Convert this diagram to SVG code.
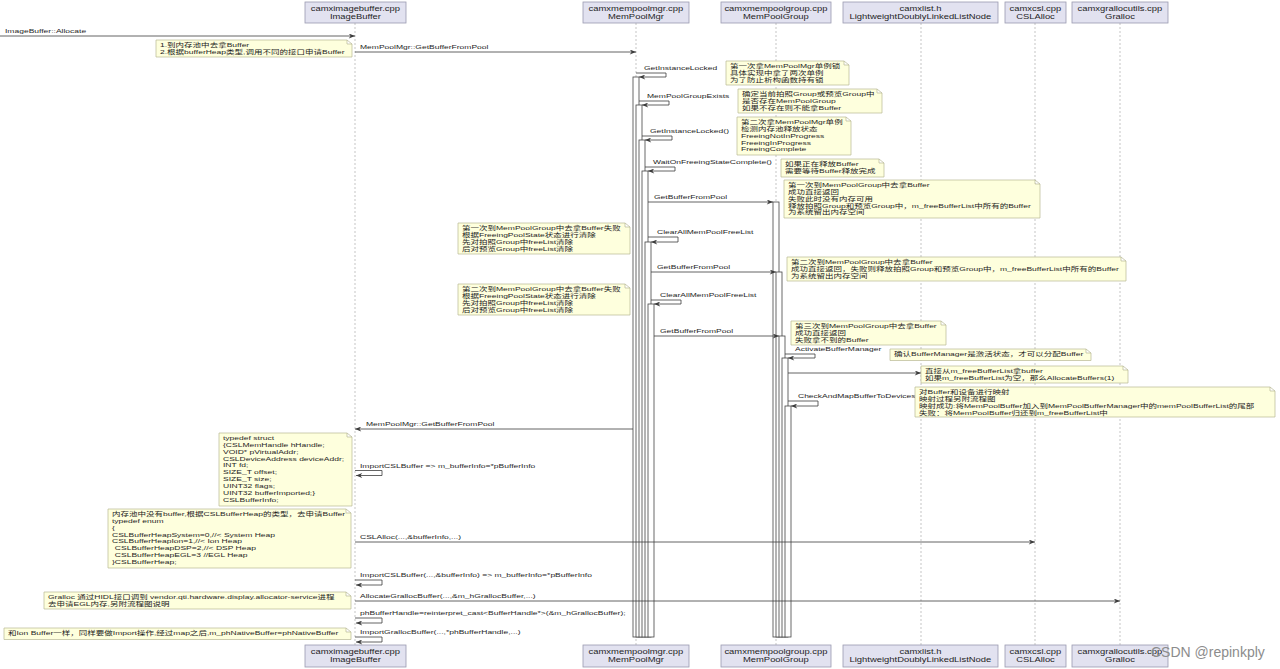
<svg xmlns="http://www.w3.org/2000/svg" width="1280" height="669" viewBox="0 0 1280 669">
<style>
.t{font-family:"Liberation Sans","Noto Sans CJK SC",sans-serif;font-size:6px;fill:#1e1e1e;transform-box:fill-box;transform-origin:0 0;transform:scale(1.42,1)}
.h{font-family:"Liberation Sans","Noto Sans CJK SC",sans-serif;font-size:6.5px;fill:#1e1e1e;text-anchor:middle;transform-box:fill-box;transform-origin:50% 0;transform:scale(1.45,1)}
.p{fill:#E2E2F0;stroke:#9a9ab0;stroke-width:0.8}
.ll{stroke:#a0a0a0;stroke-width:0.6;stroke-dasharray:2 2;fill:none}
.m{stroke:#3c3c3c;stroke-width:0.8;fill:none}
.a{fill:#fff;stroke:#454545;stroke-width:0.8}
.n{fill:#FEFFDD;stroke:#b8b894;stroke-width:0.7}
.wm{font-family:"Liberation Sans",sans-serif;font-size:14px;fill:#8c8c8c}
</style>
<defs>
<marker id="ah" viewBox="0 0 10 8" refX="10" refY="4" markerWidth="7" markerHeight="5" markerUnits="userSpaceOnUse" orient="auto">
<path d="M0,0 L10,4 L0,8 L3,4 Z" fill="#3c3c3c"/>
</marker>
</defs>
<rect width="1280" height="669" fill="#fff"/>

<g id="lifelines">
<line class="ll" x1="355" y1="23" x2="355" y2="645"/>
<line class="ll" x1="636" y1="23" x2="636" y2="645"/>
<line class="ll" x1="776" y1="23" x2="776" y2="645"/>
<line class="ll" x1="921" y1="23" x2="921" y2="645"/>
<line class="ll" x1="1035" y1="23" x2="1035" y2="645"/>
<line class="ll" x1="1120" y1="23" x2="1120" y2="645"/>
</g>

<g id="p-imagebuffer">
<rect class="p" x="305" y="2" width="101" height="21"/>
<text class="h" x="355.5" y="10.7">camximagebuffer.cpp</text>
<text class="h" x="355.5" y="18.7">ImageBuffer</text>
<rect class="p" x="305" y="645" width="101" height="22"/>
<text class="h" x="355.5" y="653.7">camximagebuffer.cpp</text>
<text class="h" x="355.5" y="661.7">ImageBuffer</text>
</g>
<g id="p-mempoolmgr">
<rect class="p" x="583" y="2" width="106" height="21"/>
<text class="h" x="636" y="10.7">camxmempoolmgr.cpp</text>
<text class="h" x="636" y="18.7">MemPoolMgr</text>
<rect class="p" x="583" y="645" width="106" height="22"/>
<text class="h" x="636" y="653.7">camxmempoolmgr.cpp</text>
<text class="h" x="636" y="661.7">MemPoolMgr</text>
</g>
<g id="p-mempoolgroup">
<rect class="p" x="721" y="2" width="110" height="21"/>
<text class="h" x="776" y="10.7">camxmempoolgroup.cpp</text>
<text class="h" x="776" y="18.7">MemPoolGroup</text>
<rect class="p" x="721" y="645" width="110" height="22"/>
<text class="h" x="776" y="653.7">camxmempoolgroup.cpp</text>
<text class="h" x="776" y="661.7">MemPoolGroup</text>
</g>
<g id="p-listnode">
<rect class="p" x="843" y="2" width="155" height="21"/>
<text class="h" x="920.5" y="10.7">camxlist.h</text>
<text class="h" x="920.5" y="18.7">LightweightDoublyLinkedListNode</text>
<rect class="p" x="843" y="645" width="155" height="22"/>
<text class="h" x="920.5" y="653.7">camxlist.h</text>
<text class="h" x="920.5" y="661.7">LightweightDoublyLinkedListNode</text>
</g>
<g id="p-cslalloc">
<rect class="p" x="1005" y="2" width="61" height="21"/>
<text class="h" x="1035.5" y="10.7">camxcsl.cpp</text>
<text class="h" x="1035.5" y="18.7">CSLAlloc</text>
<rect class="p" x="1005" y="645" width="61" height="22"/>
<text class="h" x="1035.5" y="653.7">camxcsl.cpp</text>
<text class="h" x="1035.5" y="661.7">CSLAlloc</text>
</g>
<g id="p-gralloc">
<rect class="p" x="1072" y="2" width="96" height="21"/>
<text class="h" x="1120" y="10.7">camxgrallocutils.cpp</text>
<text class="h" x="1120" y="18.7">Gralloc</text>
<rect class="p" x="1072" y="645" width="96" height="22"/>
<text class="h" x="1120" y="653.7">camxgrallocutils.cpp</text>
<text class="h" x="1120" y="661.7">Gralloc</text>
</g>

<g id="activations">
<rect class="a" x="633" y="77" width="6" height="560"/>
<rect class="a" x="636" y="105" width="6" height="532"/>
<rect class="a" x="639" y="140" width="6" height="497"/>
<rect class="a" x="642" y="171" width="6" height="466"/>
<rect class="a" x="645" y="242" width="6" height="395"/>
<rect class="a" x="648" y="304" width="6" height="333"/>
<rect class="a" x="773" y="202" width="6" height="435"/>
<rect class="a" x="776" y="272" width="6" height="365"/>
<rect class="a" x="779" y="336" width="6" height="301"/>
<rect class="a" x="782" y="358" width="6" height="279"/>
<rect class="a" x="785" y="406" width="6" height="231"/>
</g>

<g id="connectors">
<path class="m" d="M0,36 H355" marker-end="url(#ah)"/>
<text class="t" x="5" y="33.5">ImageBuffer::Allocate</text>
<path class="m" d="M355,52 H636" marker-end="url(#ah)"/>
<text class="t" x="360" y="49.5">MemPoolMgr::GetBufferFromPool</text>
<path class="m" d="M636,73 H666 V77 H639" marker-end="url(#ah)"/>
<text class="t" x="644" y="70.5">GetInstanceLocked</text>
<path class="m" d="M639,101 H669 V105 H642" marker-end="url(#ah)"/>
<text class="t" x="647" y="98.5">MemPoolGroupExists</text>
<path class="m" d="M642,136 H672 V140 H645" marker-end="url(#ah)"/>
<text class="t" x="650" y="133.5">GetInstanceLocked()</text>
<path class="m" d="M645,167 H675 V171 H648" marker-end="url(#ah)"/>
<text class="t" x="653" y="164.5">WaitOnFreeingStateComplete()</text>
<path class="m" d="M648,202 H773" marker-end="url(#ah)"/>
<text class="t" x="654" y="199.5">GetBufferFromPool</text>
<path class="m" d="M648,237 H678 V242 H651" marker-end="url(#ah)"/>
<text class="t" x="657" y="234.5">ClearAllMemPoolFreeList</text>
<path class="m" d="M651,272 H776" marker-end="url(#ah)"/>
<text class="t" x="657" y="269.5">GetBufferFromPool</text>
<path class="m" d="M651,300 H681 V304 H654" marker-end="url(#ah)"/>
<text class="t" x="660" y="297.5">ClearAllMemPoolFreeList</text>
<path class="m" d="M654,336 H779" marker-end="url(#ah)"/>
<text class="t" x="660" y="333.5">GetBufferFromPool</text>
<path class="m" d="M785,354 H815 V358 H788" marker-end="url(#ah)"/>
<text class="t" x="795" y="351.5">ActivateBufferManager</text>
<path class="m" d="M788,373 H921" marker-end="url(#ah)"/>
<path class="m" d="M788,401 H818 V406 H791" marker-end="url(#ah)"/>
<text class="t" x="798" y="398.5">CheckAndMapBufferToDevices</text>
<path class="m" d="M633,429 H355" marker-end="url(#ah)"/>
<text class="t" x="366" y="426.5">MemPoolMgr::GetBufferFromPool</text>
<path class="m" d="M355,470.5 H382 V475.5 H356" marker-end="url(#ah)"/>
<text class="t" x="360" y="468">ImportCSLBuffer =&gt; m_bufferInfo=*pBufferInfo</text>
<path class="m" d="M355,542 H1035" marker-end="url(#ah)"/>
<text class="t" x="360" y="539.5">CSLAlloc(...,&amp;bufferInfo,...)</text>
<path class="m" d="M355,580 H382 V585 H356" marker-end="url(#ah)"/>
<text class="t" x="360" y="577.5">ImportCSLBuffer(...,&amp;bufferInfo) =&gt; m_bufferInfo=*pBufferInfo</text>
<path class="m" d="M355,601 H1120" marker-end="url(#ah)"/>
<text class="t" x="360" y="598.5">AllocateGrallocBuffer(...,&amp;m_hGrallocBuffer,...)</text>
<path class="m" d="M355,618 H382 V623 H356" marker-end="url(#ah)"/>
<text class="t" x="360" y="615.5">phBufferHandle=reinterpret_cast&lt;BufferHandle*&gt;(&amp;m_hGrallocBuffer);</text>
<path class="m" d="M355,637 H382 V642 H356" marker-end="url(#ah)"/>
<text class="t" x="360" y="634.5">ImportGrallocBuffer(...,*phBufferHandle,...)</text>
</g>

<g id="note-0">
<path class="n" d="M156,40 H347 L352,44 V57 H156 Z M347,40 V44 H352"/>
<text class="t" x="160" y="47"><tspan x="160">1.到内存池中去拿Buffer</tspan><tspan x="160" dy="6.85">2.根据bufferHeap类型,调用不同的接口申请Buffer</tspan></text>
</g>
<g id="note-1">
<path class="n" d="M726,61 H844 L849,65 V85 H726 Z M844,61 V65 H849"/>
<text class="t" x="730" y="68"><tspan x="730">第一次拿MemPoolMgr单例锁</tspan><tspan x="730" dy="6.85">具体实现中拿了两次单例</tspan><tspan x="730" dy="6.85">为了防止析构函数持有锁</tspan></text>
</g>
<g id="note-2">
<path class="n" d="M738,89 H877 L882,93 V113 H738 Z M877,89 V93 H882"/>
<text class="t" x="742" y="96"><tspan x="742">确定当前拍照Group或预览Group中</tspan><tspan x="742" dy="6.85">是否存在MemPoolGroup</tspan><tspan x="742" dy="6.85">如果不存在则不能拿Buffer</tspan></text>
</g>
<g id="note-3">
<path class="n" d="M737,117 H846 L851,121 V155 H737 Z M846,117 V121 H851"/>
<text class="t" x="741" y="124"><tspan x="741">第二次拿MemPoolMgr单例</tspan><tspan x="741" dy="6.85">检测内存池释放状态</tspan><tspan x="741" dy="6.85">FreeingNotInProgress</tspan><tspan x="741" dy="6.85">FreeingInProgress</tspan><tspan x="741" dy="6.85">FreeingComplete</tspan></text>
</g>
<g id="note-4">
<path class="n" d="M781,159 H879 L884,163 V177 H781 Z M879,159 V163 H884"/>
<text class="t" x="785" y="166"><tspan x="785">如果正在释放Buffer</tspan><tspan x="785" dy="6.85">需要等待Buffer释放完成</tspan></text>
</g>
<g id="note-5">
<path class="n" d="M784,180 H1035 L1040,184 V218 H784 Z M1035,180 V184 H1040"/>
<text class="t" x="788" y="187"><tspan x="788">第一次到MemPoolGroup中去拿Buffer</tspan><tspan x="788" dy="6.85">成功直接返回</tspan><tspan x="788" dy="6.85">失败此时没有内存可用</tspan><tspan x="788" dy="6.85">释放拍照Group和预览Group中，m_freeBufferList中所有的Buffer</tspan><tspan x="788" dy="6.85">为系统留出内存空间</tspan></text>
</g>
<g id="note-6">
<path class="n" d="M458,223 H625 L630,227 V254 H458 Z M625,223 V227 H630"/>
<text class="t" x="462" y="230"><tspan x="462">第一次到MemPoolGroup中去拿Buffer失败</tspan><tspan x="462" dy="6.85">根据FreeingPoolState状态进行清除</tspan><tspan x="462" dy="6.85">先对拍照Group中freeList清除</tspan><tspan x="462" dy="6.85">后对预览Group中freeList清除</tspan></text>
</g>
<g id="note-7">
<path class="n" d="M787,257 H1121 L1126,261 V281 H787 Z M1121,257 V261 H1126"/>
<text class="t" x="791" y="264"><tspan x="791">第二次到MemPoolGroup中去拿Buffer</tspan><tspan x="791" dy="6.85">成功直接返回，失败则释放拍照Group和预览Group中，m_freeBufferList中所有的Buffer</tspan><tspan x="791" dy="6.85">为系统留出内存空间</tspan></text>
</g>
<g id="note-8">
<path class="n" d="M458,284 H625 L630,288 V315 H458 Z M625,284 V288 H630"/>
<text class="t" x="462" y="291"><tspan x="462">第二次到MemPoolGroup中去拿Buffer失败</tspan><tspan x="462" dy="6.85">根据FreeingPoolState状态进行清除</tspan><tspan x="462" dy="6.85">先对拍照Group中freeList清除</tspan><tspan x="462" dy="6.85">后对预览Group中freeList清除</tspan></text>
</g>
<g id="note-9">
<path class="n" d="M791,321 H941 L946,325 V345 H791 Z M941,321 V325 H946"/>
<text class="t" x="795" y="328"><tspan x="795">第三次到MemPoolGroup中去拿Buffer</tspan><tspan x="795" dy="6.85">成功直接返回</tspan><tspan x="795" dy="6.85">失败拿不到的Buffer</tspan></text>
</g>
<g id="note-10">
<path class="n" d="M890,349 H1086 L1091,353 V360.5 H890 Z M1086,349 V353 H1091"/>
<text class="t" x="894" y="356.5">确认BufferManager是激活状态，才可以分配Buffer</text>
</g>
<g id="note-11">
<path class="n" d="M921,366 H1123 L1128,370 V383 H921 Z M1123,366 V370 H1128"/>
<text class="t" x="925" y="373"><tspan x="925">直接从m_freeBufferList拿buffer</tspan><tspan x="925" dy="6.85">如果m_freeBufferList为空，那么AllocateBuffers(1)</tspan></text>
</g>
<g id="note-12">
<path class="n" d="M915,387 H1270 L1275,391 V417 H915 Z M1270,387 V391 H1275"/>
<text class="t" x="919" y="394"><tspan x="919">对Buffer和设备进行映射</tspan><tspan x="919" dy="6.85">映射过程另附流程图</tspan><tspan x="919" dy="6.85">映射成功:将MemPoolBuffer加入到MemPoolBufferManager中的memPoolBufferList的尾部</tspan><tspan x="919" dy="6.85">失败：将MemPoolBuffer归还到m_freeBufferList中</tspan></text>
</g>
<g id="note-13">
<path class="n" d="M219,433 H347 L352,437 V506 H219 Z M347,433 V437 H352"/>
<text class="t" x="223" y="440"><tspan x="223">typedef struct</tspan><tspan x="223" dy="6.85">{CSLMemHandle hHandle;</tspan><tspan x="223" dy="6.85">VOID* pVirtualAddr;</tspan><tspan x="223" dy="6.85">CSLDeviceAddress deviceAddr;</tspan><tspan x="223" dy="6.85">INT fd;</tspan><tspan x="223" dy="6.85">SIZE_T offset;</tspan><tspan x="223" dy="6.85">SIZE_T size;</tspan><tspan x="223" dy="6.85">UINT32 flags;</tspan><tspan x="223" dy="6.85">UINT32 bufferImported;}</tspan><tspan x="223" dy="6.85">CSLBufferInfo;</tspan></text>
</g>
<g id="note-14">
<path class="n" d="M108,509 H346 L351,513 V568 H108 Z M346,509 V513 H351"/>
<text class="t" x="112" y="516"><tspan x="112">内存池中没有buffer,根据CSLBufferHeap的类型，去申请Buffer</tspan><tspan x="112" dy="6.85">typedef enum</tspan><tspan x="112" dy="6.85">{</tspan><tspan x="112" dy="6.85">CSLBufferHeapSystem=0,//&lt; System Heap</tspan><tspan x="112" dy="6.85">CSLBufferHeapIon=1,//&lt; Ion Heap</tspan><tspan x="114" dy="6.85">CSLBufferHeapDSP=2,//&lt; DSP Heap</tspan><tspan x="114" dy="6.85">CSLBufferHeapEGL=3 //EGL Heap</tspan><tspan x="112" dy="6.85">}CSLBufferHeap;</tspan></text>
</g>
<g id="note-15">
<path class="n" d="M44,592 H346 L351,596 V609 H44 Z M346,592 V596 H351"/>
<text class="t" x="48" y="599"><tspan x="48">Gralloc 通过HIDL接口调到 vendor.qti.hardware.display.allocator-service进程</tspan><tspan x="48" dy="6.85">去申请EGL内存,另附流程图说明</tspan></text>
</g>
<g id="note-16">
<path class="n" d="M4,628 H346 L351,632 V639.5 H4 Z M346,628 V632 H351"/>
<text class="t" x="8" y="635.5">和Ion Buffer一样，同样要做Import操作,经过map之后,m_phNativeBuffer=phNativeBuffer</text>
</g>

<text class="wm" x="1151" y="657">CSDN @repinkply</text>
</svg>
